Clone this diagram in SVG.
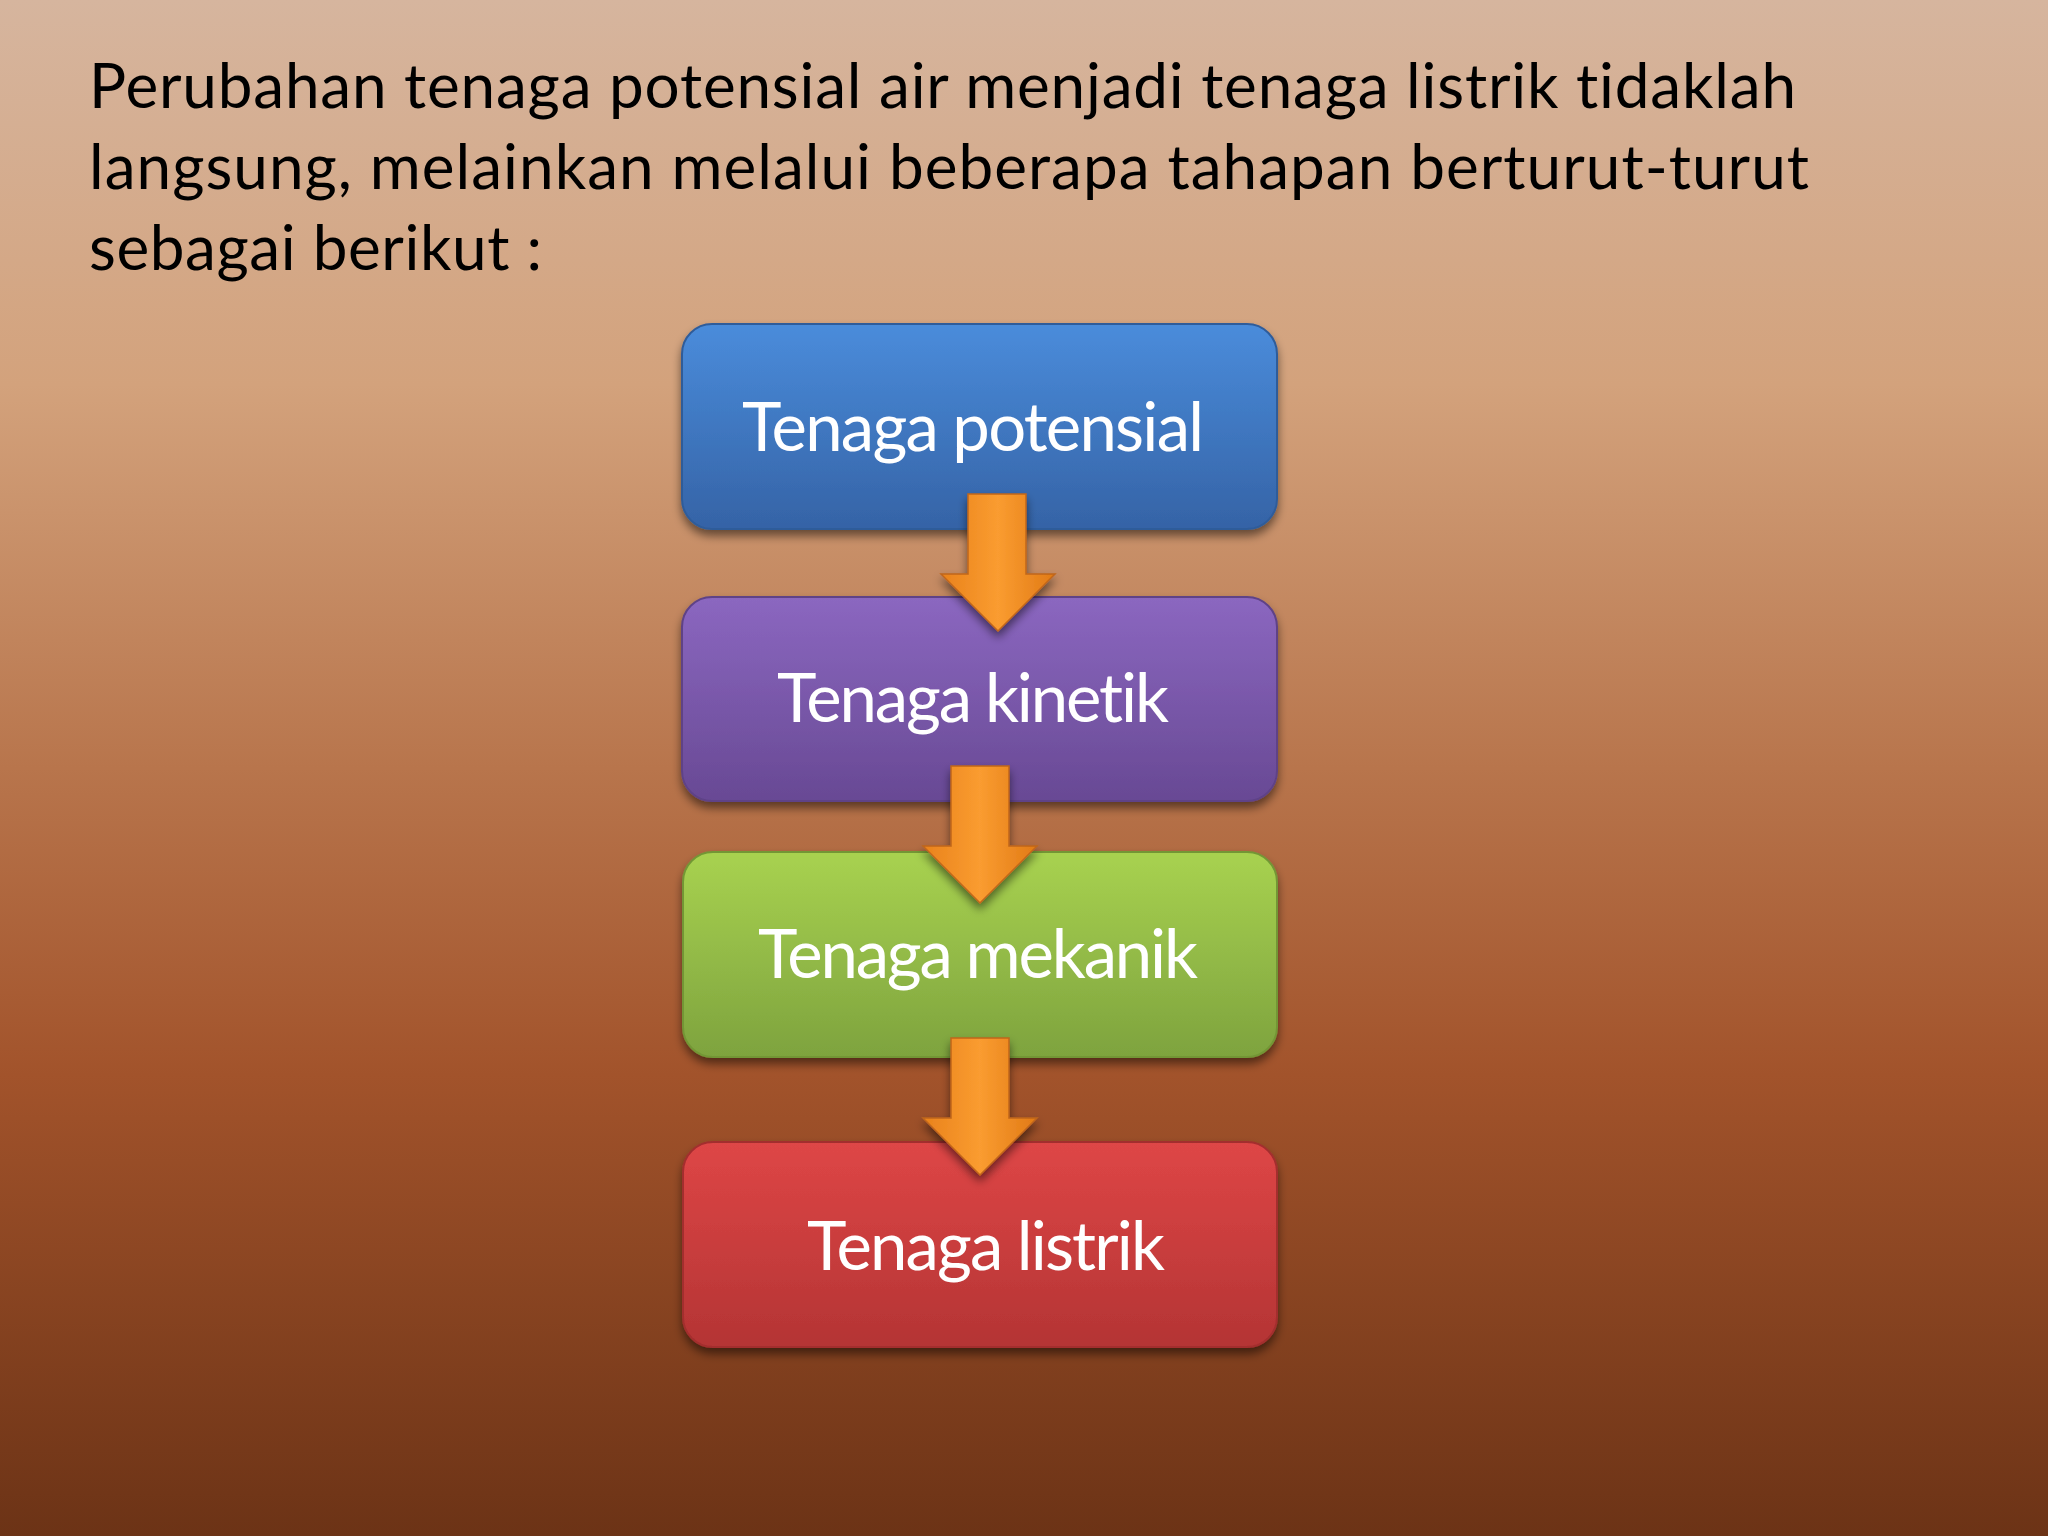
<svg xmlns="http://www.w3.org/2000/svg" width="2048" height="1536" viewBox="0 0 2048 1536">
<defs>
<linearGradient id="bg" x1="0" y1="0" x2="0" y2="1">
<stop offset="0" stop-color="#D6B59E"/>
<stop offset="0.25" stop-color="#D3A27C"/>
<stop offset="0.5" stop-color="#B8754C"/>
<stop offset="0.7" stop-color="#A2532B"/>
<stop offset="1" stop-color="#6C3316"/>
</linearGradient>
<linearGradient id="gBlue" x1="0" y1="0" x2="0" y2="1">
<stop offset="0" stop-color="#4A8CDB"/>
<stop offset="1" stop-color="#3563A6"/>
</linearGradient>
<linearGradient id="gPurple" x1="0" y1="0" x2="0" y2="1">
<stop offset="0" stop-color="#8B67C0"/>
<stop offset="1" stop-color="#684994"/>
</linearGradient>
<linearGradient id="gGreen" x1="0" y1="0" x2="0" y2="1">
<stop offset="0" stop-color="#A8D250"/>
<stop offset="1" stop-color="#7EA33E"/>
</linearGradient>
<linearGradient id="gRed" x1="0" y1="0" x2="0" y2="1">
<stop offset="0" stop-color="#DE4646"/>
<stop offset="1" stop-color="#B43434"/>
</linearGradient>
<linearGradient id="gArrow" x1="0" y1="0" x2="1" y2="0">
<stop offset="0" stop-color="#E9821C"/>
<stop offset="0.5" stop-color="#FA9C30"/>
<stop offset="1" stop-color="#E17A16"/>
</linearGradient>
<filter id="shadow" x="-10%" y="-10%" width="120%" height="130%">
<feGaussianBlur in="SourceAlpha" stdDeviation="5"/>
<feOffset dx="0" dy="6" result="b"/>
<feComponentTransfer><feFuncA type="linear" slope="0.5"/></feComponentTransfer>
<feMerge><feMergeNode/><feMergeNode in="SourceGraphic"/></feMerge>
</filter>
</defs>
<style>
.title{font-family:"Lato","Liberation Sans",sans-serif;font-size:62px;fill:#000;font-variant-ligatures:none}
.lbl{font-family:"Lato","Liberation Sans",sans-serif;font-size:67px;fill:#fff;font-variant-ligatures:none}
.box{filter:url(#shadow);stroke-width:2}
.arr{fill:url(#gArrow);stroke:#C0661A;stroke-width:1.5;filter:url(#shadow)}
</style>
<rect x="0" y="0" width="2048" height="1536" fill="url(#bg)"/>
<g id="title">
<text class="title" x="89" y="108" textLength="1707">Perubahan tenaga potensial air menjadi tenaga listrik tidaklah</text>
<text class="title" x="89" y="189" textLength="1720">langsung, melainkan melalui beberapa tahapan berturut-turut</text>
<text class="title" x="89" y="270" textLength="453">sebagai berikut :</text>
</g>
<g id="node1">
<rect class="box" x="682" y="324" width="595" height="205" rx="30" fill="url(#gBlue)" stroke="#2F5C9A"/>
<text class="lbl" x="742" y="451" textLength="462">Tenaga potensial</text>
</g>
<g id="node2">
<rect class="box" x="682" y="597" width="595" height="204" rx="30" fill="url(#gPurple)" stroke="#5E4287"/>
<text class="lbl" x="777" y="722" textLength="392">Tenaga kinetik</text>
</g>
<g id="node3">
<rect class="box" x="683" y="852" width="594" height="205" rx="30" fill="url(#gGreen)" stroke="#739636"/>
<text class="lbl" x="758" y="978" textLength="440">Tenaga mekanik</text>
</g>
<g id="node4">
<rect class="box" x="683" y="1142" width="594" height="205" rx="30" fill="url(#gRed)" stroke="#A32E2E"/>
<text class="lbl" x="807" y="1270" textLength="358">Tenaga listrik</text>
</g>
<g id="connectors">
<path class="arr" d="M968,494 H1026 V574 H1055 L998,631 L941,574 H968 Z"/>
<path class="arr" d="M951,766 H1009 V846 H1037 L980,903 L923,846 H951 Z"/>
<path class="arr" d="M951,1038 H1009 V1118 H1037 L980,1175 L923,1118 H951 Z"/>
</g>
</svg>
